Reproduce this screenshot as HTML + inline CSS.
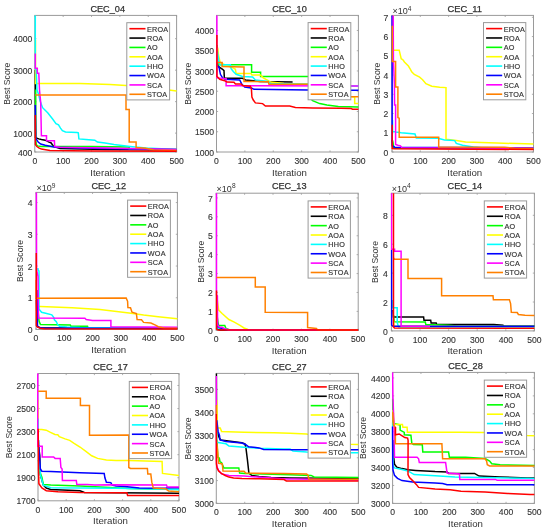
<!DOCTYPE html><html><head><meta charset="utf-8"><style>html,body{margin:0;padding:0;background:#fff;}svg{display:block;will-change:transform;}text{font-family:"Liberation Sans", sans-serif;}</style></head><body>
<svg width="550" height="532" viewBox="0 0 550 532">
<rect width="550" height="532" fill="#fff"/>
<defs><clipPath id="c0"><rect x="33.80" y="14.40" width="143.80" height="138.60"/></clipPath></defs>
<rect x="34.80" y="15.40" width="141.80" height="136.60" fill="none" stroke="#9a9a9a" stroke-width="1"/>
<path d="M34.80 152.00v-1.60M34.80 15.40v1.60M63.16 152.00v-1.60M63.16 15.40v1.60M91.52 152.00v-1.60M91.52 15.40v1.60M119.88 152.00v-1.60M119.88 15.40v1.60M148.24 152.00v-1.60M148.24 15.40v1.60M176.60 152.00v-1.60M176.60 15.40v1.60M34.80 152.00h1.60M176.60 152.00h-1.60M34.80 133.12h1.60M176.60 133.12h-1.60M34.80 101.64h1.60M176.60 101.64h-1.60M34.80 70.17h1.60M176.60 70.17h-1.60M34.80 38.69h1.60M176.60 38.69h-1.60" stroke="#9a9a9a" stroke-width="0.8" fill="none"/>
<g clip-path="url(#c0)" fill="none" stroke-width="1.5" stroke-linejoin="miter" stroke-linecap="butt">
<polyline stroke="#000000" points="35.30,70.00 35.50,137.60 38.80,138.90 41.40,139.50 45.20,140.20 49.00,142.10 50.90,142.70 52.80,145.30 54.10,146.50 60.00,148.50 105.00,149.60 176.60,150.00"/>
<polyline stroke="#00ff00" points="35.60,89.60 35.80,140.00 36.30,144.60 37.50,145.90 41.40,146.50 91.00,146.50 129.20,147.00 129.20,149.00 176.60,149.50"/>
<polyline stroke="#ffff00" points="35.50,40.00 35.50,83.40 80.00,83.60 110.00,84.50 126.00,85.50 150.00,87.50 165.00,89.50 176.60,91.00"/>
<polyline stroke="#00ffff" points="35.30,15.40 35.30,68.00 36.20,70.00 37.00,90.00 38.80,95.00 40.10,101.00 42.60,107.70 47.70,112.80 52.80,119.20 56.00,123.60 58.50,124.90 60.50,128.10 62.40,130.60 65.50,131.90 77.00,132.50 78.30,132.90 78.90,138.90 85.90,139.50 94.80,140.20 97.40,142.10 105.00,143.10 114.00,144.50 130.00,146.40 146.00,148.00 176.60,149.60"/>
<polyline stroke="#0000ff" points="35.30,105.00 35.80,138.30 38.20,142.10 40.70,144.00 45.20,145.30 51.50,146.50 55.40,147.20 100.00,148.50 176.60,149.50"/>
<polyline stroke="#ff00ff" points="35.30,53.50 35.30,68.20 37.30,68.20 37.30,73.30 38.80,73.30 39.50,90.00 40.70,102.60 41.40,135.70 46.50,135.70 46.50,140.80 54.40,140.80 54.70,146.50 60.00,147.20 105.00,148.00 176.60,149.60"/>
<polyline stroke="#ff8000" points="35.30,95.00 126.00,95.00 126.00,109.60 129.20,109.60 129.20,141.90 136.10,141.90 136.10,147.50 146.00,148.20 154.00,150.00 176.60,150.50"/>
<polyline stroke="#ff0000" points="35.30,115.00 35.40,144.60 36.90,146.50 38.80,147.80 41.40,149.10 50.00,150.50 93.00,150.90 176.60,151.20"/>
</g>
<g font-size="8.6" fill="#333333" stroke="#333333" stroke-width="0.12"><text x="34.80" y="163.90" text-anchor="middle">0</text><text x="63.16" y="163.90" text-anchor="middle">100</text><text x="91.52" y="163.90" text-anchor="middle">200</text><text x="119.88" y="163.90" text-anchor="middle">300</text><text x="148.24" y="163.90" text-anchor="middle">400</text><text x="176.60" y="163.90" text-anchor="middle">500</text><text x="32.30" y="155.60" text-anchor="end">400</text><text x="32.30" y="136.72" text-anchor="end">1000</text><text x="32.30" y="105.24" text-anchor="end">2000</text><text x="32.30" y="73.77" text-anchor="end">3000</text><text x="32.30" y="42.29" text-anchor="end">4000</text></g>
<text x="107.70" y="11.50" text-anchor="middle" font-size="9.0" fill="#333333" stroke="#333333" stroke-width="0.25" textLength="34.6" lengthAdjust="spacingAndGlyphs">CEC_04</text>
<text x="107.70" y="175.50" text-anchor="middle" font-size="8.9" fill="#333333" textLength="35" lengthAdjust="spacingAndGlyphs">Iteration</text>
<text transform="translate(9.80 83.70) rotate(-90)" text-anchor="middle" font-size="8.9" fill="#333333" textLength="42" lengthAdjust="spacingAndGlyphs">Best Score</text>
<rect x="126.80" y="22.70" width="42.80" height="77.20" fill="#fff" stroke="#9a9a9a" stroke-width="1"/>
<line x1="129.40" x2="145.50" y1="28.70" y2="28.70" stroke="#ff0000" stroke-width="1.6"/><text x="147.00" y="31.60" font-size="7.25" fill="#333333" stroke="#333333" stroke-width="0.15" letter-spacing="0.2">EROA</text><line x1="129.40" x2="145.50" y1="38.07" y2="38.07" stroke="#000000" stroke-width="1.6"/><text x="147.00" y="40.97" font-size="7.25" fill="#333333" stroke="#333333" stroke-width="0.15" letter-spacing="0.2">ROA</text><line x1="129.40" x2="145.50" y1="47.44" y2="47.44" stroke="#00ff00" stroke-width="1.6"/><text x="147.00" y="50.34" font-size="7.25" fill="#333333" stroke="#333333" stroke-width="0.15" letter-spacing="0.2">AO</text><line x1="129.40" x2="145.50" y1="56.81" y2="56.81" stroke="#ffff00" stroke-width="1.6"/><text x="147.00" y="59.71" font-size="7.25" fill="#333333" stroke="#333333" stroke-width="0.15" letter-spacing="0.2">AOA</text><line x1="129.40" x2="145.50" y1="66.18" y2="66.18" stroke="#00ffff" stroke-width="1.6"/><text x="147.00" y="69.08" font-size="7.25" fill="#333333" stroke="#333333" stroke-width="0.15" letter-spacing="0.2">HHO</text><line x1="129.40" x2="145.50" y1="75.55" y2="75.55" stroke="#0000ff" stroke-width="1.6"/><text x="147.00" y="78.45" font-size="7.25" fill="#333333" stroke="#333333" stroke-width="0.15" letter-spacing="0.2">WOA</text><line x1="129.40" x2="145.50" y1="84.92" y2="84.92" stroke="#ff00ff" stroke-width="1.6"/><text x="147.00" y="87.82" font-size="7.25" fill="#333333" stroke="#333333" stroke-width="0.15" letter-spacing="0.2">SCA</text><line x1="129.40" x2="145.50" y1="94.29" y2="94.29" stroke="#ff8000" stroke-width="1.6"/><text x="147.00" y="97.19" font-size="7.25" fill="#333333" stroke="#333333" stroke-width="0.15" letter-spacing="0.2">STOA</text>
<defs><clipPath id="c1"><rect x="215.50" y="14.40" width="143.90" height="138.60"/></clipPath></defs>
<rect x="216.50" y="15.40" width="141.90" height="136.60" fill="none" stroke="#9a9a9a" stroke-width="1"/>
<path d="M216.50 152.00v-1.60M216.50 15.40v1.60M244.88 152.00v-1.60M244.88 15.40v1.60M273.26 152.00v-1.60M273.26 15.40v1.60M301.64 152.00v-1.60M301.64 15.40v1.60M330.02 152.00v-1.60M330.02 15.40v1.60M358.40 152.00v-1.60M358.40 15.40v1.60M216.50 152.00h1.60M358.40 152.00h-1.60M216.50 131.74h1.60M358.40 131.74h-1.60M216.50 111.49h1.60M358.40 111.49h-1.60M216.50 91.23h1.60M358.40 91.23h-1.60M216.50 70.98h1.60M358.40 70.98h-1.60M216.50 50.72h1.60M358.40 50.72h-1.60M216.50 30.47h1.60M358.40 30.47h-1.60" stroke="#9a9a9a" stroke-width="0.8" fill="none"/>
<g clip-path="url(#c1)" fill="none" stroke-width="1.5" stroke-linejoin="miter" stroke-linecap="butt">
<polyline stroke="#000000" points="216.90,62.00 218.30,66.40 222.60,69.30 224.00,70.70 224.30,77.10 224.70,78.30 242.60,78.30 245.40,80.00 260.00,81.40 292.60,82.00"/>
<polyline stroke="#00ff00" points="217.20,45.00 218.00,60.00 219.00,64.70 251.60,64.70 251.60,72.30 260.60,72.30 260.60,76.60 310.00,76.60 311.00,99.00 312.60,100.70 319.70,103.60 326.90,105.00 338.30,106.40 358.40,107.10"/>
<polyline stroke="#ffff00" points="217.50,47.80 218.50,55.00 219.90,61.40 221.10,63.30 234.00,68.30 235.40,69.30 236.10,73.60 251.10,73.60 251.90,75.00 260.40,75.00 263.30,77.90 268.30,80.70 270.40,82.10 284.00,83.60 309.00,84.00 340.00,96.00 354.70,97.10 354.70,103.60 358.40,103.60"/>
<polyline stroke="#00ffff" points="217.30,51.20 219.30,63.60 220.40,64.70 230.40,64.70 231.10,68.60 233.30,71.40 236.10,74.30 242.60,76.40 252.60,77.10 255.40,80.00 268.30,81.40 270.40,83.60 290.00,84.00 309.00,84.30 340.00,86.00 358.40,86.00"/>
<polyline stroke="#0000ff" points="217.50,66.00 219.00,67.10 220.40,74.30 222.60,77.90 225.40,79.30 239.70,80.00 241.90,84.30 244.70,87.10 251.40,87.90 254.00,89.30 290.00,89.70 309.00,90.00 351.10,90.30 358.40,90.30"/>
<polyline stroke="#ff00ff" points="216.90,15.40 216.90,77.90 226.10,78.60 226.10,85.70 358.40,86.00"/>
<polyline stroke="#ff8000" points="216.90,62.50 222.10,62.50 222.10,66.60 244.00,66.90 244.00,81.40 268.30,81.70 269.00,84.30 309.00,84.30 340.00,96.40 358.40,96.80"/>
<polyline stroke="#ff0000" points="216.90,34.90 216.90,76.50 217.60,77.10 219.70,79.30 224.70,80.70 226.90,82.10 234.00,82.30 235.40,84.00 241.10,84.00 242.60,85.60 250.40,86.30 251.40,88.60 251.90,97.10 253.30,100.00 255.40,102.90 262.60,103.60 265.40,106.00 289.70,106.00 295.40,107.40 312.60,107.90 341.10,108.30 351.10,108.60 352.60,109.30 358.40,109.30"/>
</g>
<g font-size="8.6" fill="#333333" stroke="#333333" stroke-width="0.12"><text x="216.50" y="163.90" text-anchor="middle">0</text><text x="244.88" y="163.90" text-anchor="middle">100</text><text x="273.26" y="163.90" text-anchor="middle">200</text><text x="301.64" y="163.90" text-anchor="middle">300</text><text x="330.02" y="163.90" text-anchor="middle">400</text><text x="358.40" y="163.90" text-anchor="middle">500</text><text x="214.00" y="155.60" text-anchor="end">1000</text><text x="214.00" y="135.34" text-anchor="end">1500</text><text x="214.00" y="115.09" text-anchor="end">2000</text><text x="214.00" y="94.83" text-anchor="end">2500</text><text x="214.00" y="74.58" text-anchor="end">3000</text><text x="214.00" y="54.32" text-anchor="end">3500</text><text x="214.00" y="34.07" text-anchor="end">4000</text></g>
<text x="289.45" y="11.50" text-anchor="middle" font-size="9.0" fill="#333333" stroke="#333333" stroke-width="0.25" textLength="34.6" lengthAdjust="spacingAndGlyphs">CEC_10</text>
<text x="289.45" y="175.50" text-anchor="middle" font-size="8.9" fill="#333333" textLength="35" lengthAdjust="spacingAndGlyphs">Iteration</text>
<text transform="translate(190.60 83.70) rotate(-90)" text-anchor="middle" font-size="8.9" fill="#333333" textLength="42" lengthAdjust="spacingAndGlyphs">Best Score</text>
<rect x="308.10" y="22.60" width="42.70" height="77.20" fill="#fff" stroke="#9a9a9a" stroke-width="1"/>
<line x1="310.70" x2="326.80" y1="28.60" y2="28.60" stroke="#ff0000" stroke-width="1.6"/><text x="328.30" y="31.50" font-size="7.25" fill="#333333" stroke="#333333" stroke-width="0.15" letter-spacing="0.2">EROA</text><line x1="310.70" x2="326.80" y1="37.97" y2="37.97" stroke="#000000" stroke-width="1.6"/><text x="328.30" y="40.87" font-size="7.25" fill="#333333" stroke="#333333" stroke-width="0.15" letter-spacing="0.2">ROA</text><line x1="310.70" x2="326.80" y1="47.34" y2="47.34" stroke="#00ff00" stroke-width="1.6"/><text x="328.30" y="50.24" font-size="7.25" fill="#333333" stroke="#333333" stroke-width="0.15" letter-spacing="0.2">AO</text><line x1="310.70" x2="326.80" y1="56.71" y2="56.71" stroke="#ffff00" stroke-width="1.6"/><text x="328.30" y="59.61" font-size="7.25" fill="#333333" stroke="#333333" stroke-width="0.15" letter-spacing="0.2">AOA</text><line x1="310.70" x2="326.80" y1="66.08" y2="66.08" stroke="#00ffff" stroke-width="1.6"/><text x="328.30" y="68.98" font-size="7.25" fill="#333333" stroke="#333333" stroke-width="0.15" letter-spacing="0.2">HHO</text><line x1="310.70" x2="326.80" y1="75.45" y2="75.45" stroke="#0000ff" stroke-width="1.6"/><text x="328.30" y="78.35" font-size="7.25" fill="#333333" stroke="#333333" stroke-width="0.15" letter-spacing="0.2">WOA</text><line x1="310.70" x2="326.80" y1="84.82" y2="84.82" stroke="#ff00ff" stroke-width="1.6"/><text x="328.30" y="87.72" font-size="7.25" fill="#333333" stroke="#333333" stroke-width="0.15" letter-spacing="0.2">SCA</text><line x1="310.70" x2="326.80" y1="94.19" y2="94.19" stroke="#ff8000" stroke-width="1.6"/><text x="328.30" y="97.09" font-size="7.25" fill="#333333" stroke="#333333" stroke-width="0.15" letter-spacing="0.2">STOA</text>
<defs><clipPath id="c2"><rect x="391.00" y="14.40" width="143.50" height="138.60"/></clipPath></defs>
<rect x="392.00" y="15.40" width="141.50" height="136.60" fill="none" stroke="#9a9a9a" stroke-width="1"/>
<path d="M392.00 152.00v-1.60M392.00 15.40v1.60M420.30 152.00v-1.60M420.30 15.40v1.60M448.60 152.00v-1.60M448.60 15.40v1.60M476.90 152.00v-1.60M476.90 15.40v1.60M505.20 152.00v-1.60M505.20 15.40v1.60M533.50 152.00v-1.60M533.50 15.40v1.60M392.00 152.00h1.60M533.50 152.00h-1.60M392.00 132.76h1.60M533.50 132.76h-1.60M392.00 113.52h1.60M533.50 113.52h-1.60M392.00 94.28h1.60M533.50 94.28h-1.60M392.00 75.04h1.60M533.50 75.04h-1.60M392.00 55.80h1.60M533.50 55.80h-1.60M392.00 36.56h1.60M533.50 36.56h-1.60M392.00 17.32h1.60M533.50 17.32h-1.60" stroke="#9a9a9a" stroke-width="0.8" fill="none"/>
<g clip-path="url(#c2)" fill="none" stroke-width="1.5" stroke-linejoin="miter" stroke-linecap="butt">
<polyline stroke="#000000" points="392.30,140.00 393.00,148.00 533.50,148.80"/>
<polyline stroke="#00ff00" points="392.30,140.00 394.00,147.80 533.50,148.60"/>
<polyline stroke="#ffff00" points="393.30,15.40 393.30,50.20 399.20,50.20 401.20,58.70 403.10,60.00 404.40,62.00 408.40,66.00 410.40,69.30 411.70,71.90 414.30,74.50 419.60,77.20 422.60,79.70 425.90,83.70 431.80,86.30 439.70,87.20 446.00,87.60 446.00,139.30 456.40,140.60 465.60,141.90 496.90,143.10 533.50,144.00"/>
<polyline stroke="#00ffff" points="392.50,120.00 392.60,131.40 395.90,132.00 401.20,132.70 415.00,134.00 416.30,137.90 438.00,138.20 444.60,139.90 450.00,140.30 454.70,140.60 456.30,143.40 462.50,145.30 473.40,146.90 481.30,147.70 533.50,148.30"/>
<polyline stroke="#0000ff" points="392.10,15.40 392.10,145.80 392.60,145.80 394.60,147.20 533.50,148.00"/>
<polyline stroke="#ff00ff" points="393.20,15.40 393.40,60.00 394.40,84.00 394.60,105.00 395.60,105.00 395.60,144.50 397.90,145.20 400.50,145.80 401.80,147.80 533.50,148.20"/>
<polyline stroke="#ff8000" points="392.30,25.80 392.30,61.40 395.60,61.40 395.60,87.00 397.90,87.00 397.90,117.60 399.20,118.20 399.20,137.30 438.70,137.30 438.70,146.90 504.70,147.20 515.60,148.40 533.50,148.60"/>
<polyline stroke="#ff0000" points="392.20,124.80 392.20,148.50 394.60,148.80 533.50,149.50"/>
</g>
<g font-size="8.6" fill="#333333" stroke="#333333" stroke-width="0.12"><text x="392.00" y="163.90" text-anchor="middle">0</text><text x="420.30" y="163.90" text-anchor="middle">100</text><text x="448.60" y="163.90" text-anchor="middle">200</text><text x="476.90" y="163.90" text-anchor="middle">300</text><text x="505.20" y="163.90" text-anchor="middle">400</text><text x="533.50" y="163.90" text-anchor="middle">500</text><text x="388.40" y="155.60" text-anchor="end">0</text><text x="388.40" y="136.36" text-anchor="end">1</text><text x="388.40" y="117.12" text-anchor="end">2</text><text x="388.40" y="97.88" text-anchor="end">3</text><text x="388.40" y="78.64" text-anchor="end">4</text><text x="388.40" y="59.40" text-anchor="end">5</text><text x="388.40" y="40.16" text-anchor="end">6</text><text x="388.40" y="20.92" text-anchor="end">7</text></g>
<text x="392.40" y="14.10" font-size="9" fill="#333333">&#215;10<tspan font-size="6.6" dy="-3.6">4</tspan></text>
<text x="464.75" y="11.50" text-anchor="middle" font-size="9.0" fill="#333333" stroke="#333333" stroke-width="0.25" textLength="34.6" lengthAdjust="spacingAndGlyphs">CEC_11</text>
<text x="464.75" y="175.50" text-anchor="middle" font-size="8.9" fill="#333333" textLength="35" lengthAdjust="spacingAndGlyphs">Iteration</text>
<text transform="translate(379.60 83.70) rotate(-90)" text-anchor="middle" font-size="8.9" fill="#333333" textLength="42" lengthAdjust="spacingAndGlyphs">Best Score</text>
<rect x="483.50" y="22.60" width="42.30" height="77.20" fill="#fff" stroke="#9a9a9a" stroke-width="1"/>
<line x1="486.10" x2="502.20" y1="28.60" y2="28.60" stroke="#ff0000" stroke-width="1.6"/><text x="503.70" y="31.50" font-size="7.25" fill="#333333" stroke="#333333" stroke-width="0.15" letter-spacing="0.2">EROA</text><line x1="486.10" x2="502.20" y1="37.97" y2="37.97" stroke="#000000" stroke-width="1.6"/><text x="503.70" y="40.87" font-size="7.25" fill="#333333" stroke="#333333" stroke-width="0.15" letter-spacing="0.2">ROA</text><line x1="486.10" x2="502.20" y1="47.34" y2="47.34" stroke="#00ff00" stroke-width="1.6"/><text x="503.70" y="50.24" font-size="7.25" fill="#333333" stroke="#333333" stroke-width="0.15" letter-spacing="0.2">AO</text><line x1="486.10" x2="502.20" y1="56.71" y2="56.71" stroke="#ffff00" stroke-width="1.6"/><text x="503.70" y="59.61" font-size="7.25" fill="#333333" stroke="#333333" stroke-width="0.15" letter-spacing="0.2">AOA</text><line x1="486.10" x2="502.20" y1="66.08" y2="66.08" stroke="#00ffff" stroke-width="1.6"/><text x="503.70" y="68.98" font-size="7.25" fill="#333333" stroke="#333333" stroke-width="0.15" letter-spacing="0.2">HHO</text><line x1="486.10" x2="502.20" y1="75.45" y2="75.45" stroke="#0000ff" stroke-width="1.6"/><text x="503.70" y="78.35" font-size="7.25" fill="#333333" stroke="#333333" stroke-width="0.15" letter-spacing="0.2">WOA</text><line x1="486.10" x2="502.20" y1="84.82" y2="84.82" stroke="#ff00ff" stroke-width="1.6"/><text x="503.70" y="87.72" font-size="7.25" fill="#333333" stroke="#333333" stroke-width="0.15" letter-spacing="0.2">SCA</text><line x1="486.10" x2="502.20" y1="94.19" y2="94.19" stroke="#ff8000" stroke-width="1.6"/><text x="503.70" y="97.09" font-size="7.25" fill="#333333" stroke="#333333" stroke-width="0.15" letter-spacing="0.2">STOA</text>
<defs><clipPath id="c3"><rect x="35.00" y="191.40" width="143.40" height="139.10"/></clipPath></defs>
<rect x="36.00" y="192.40" width="141.40" height="137.10" fill="none" stroke="#9a9a9a" stroke-width="1"/>
<path d="M36.00 329.50v-1.60M36.00 192.40v1.60M64.28 329.50v-1.60M64.28 192.40v1.60M92.56 329.50v-1.60M92.56 192.40v1.60M120.84 329.50v-1.60M120.84 192.40v1.60M149.12 329.50v-1.60M149.12 192.40v1.60M177.40 329.50v-1.60M177.40 192.40v1.60M36.00 329.50h1.60M177.40 329.50h-1.60M36.00 297.76h1.60M177.40 297.76h-1.60M36.00 266.03h1.60M177.40 266.03h-1.60M36.00 234.29h1.60M177.40 234.29h-1.60M36.00 202.56h1.60M177.40 202.56h-1.60" stroke="#9a9a9a" stroke-width="0.8" fill="none"/>
<g clip-path="url(#c3)" fill="none" stroke-width="1.5" stroke-linejoin="miter" stroke-linecap="butt">
<polyline stroke="#000000" points="36.50,300.00 37.00,326.00 40.00,327.80 177.40,328.20"/>
<polyline stroke="#00ff00" points="37.00,300.00 39.10,321.20 40.40,324.40 70.30,325.00 70.90,326.30 87.50,326.30 88.00,327.80 177.40,328.20"/>
<polyline stroke="#ffff00" points="37.50,290.00 38.00,306.50 40.40,306.50 72.20,307.80 100.00,309.60 129.10,312.90 143.60,315.10 158.20,316.80 177.40,318.70"/>
<polyline stroke="#00ffff" points="37.90,268.00 37.90,269.70 39.00,271.00 39.00,309.20 41.60,312.30 46.70,313.50 51.80,314.80 53.70,317.40 54.40,319.90 56.30,321.80 57.50,324.40 59.50,326.30 67.00,326.90 80.00,327.50 177.40,328.00"/>
<polyline stroke="#0000ff" points="37.00,290.00 37.50,326.50 39.00,327.50 45.00,328.20 177.40,328.20"/>
<polyline stroke="#ff00ff" points="36.40,192.40 36.60,270.00 38.00,276.30 38.50,318.00 84.90,318.30 86.20,319.50 92.50,320.50 110.90,320.50 110.90,326.70 177.40,327.20"/>
<polyline stroke="#ff8000" points="36.30,280.00 36.30,298.30 126.20,298.10 127.60,301.30 127.90,307.50 130.50,307.80 132.00,312.20 136.40,313.60 137.10,319.50 141.50,319.70 143.60,322.40 150.90,323.10 156.00,325.30 158.20,326.70 164.00,327.90 177.40,328.20"/>
<polyline stroke="#ff0000" points="36.30,252.90 36.30,325.60 37.20,326.90 40.40,328.20 44.20,328.80 177.40,328.90"/>
</g>
<g font-size="8.6" fill="#333333" stroke="#333333" stroke-width="0.12"><text x="36.00" y="341.40" text-anchor="middle">0</text><text x="64.28" y="341.40" text-anchor="middle">100</text><text x="92.56" y="341.40" text-anchor="middle">200</text><text x="120.84" y="341.40" text-anchor="middle">300</text><text x="149.12" y="341.40" text-anchor="middle">400</text><text x="177.40" y="341.40" text-anchor="middle">500</text><text x="32.60" y="333.10" text-anchor="end">0</text><text x="32.60" y="301.36" text-anchor="end">1</text><text x="32.60" y="269.63" text-anchor="end">2</text><text x="32.60" y="237.89" text-anchor="end">3</text><text x="32.60" y="206.16" text-anchor="end">4</text></g>
<text x="36.40" y="191.10" font-size="9" fill="#333333">&#215;10<tspan font-size="6.6" dy="-3.6">9</tspan></text>
<text x="108.70" y="188.50" text-anchor="middle" font-size="9.0" fill="#333333" stroke="#333333" stroke-width="0.25" textLength="34.6" lengthAdjust="spacingAndGlyphs">CEC_12</text>
<text x="108.70" y="353.00" text-anchor="middle" font-size="8.9" fill="#333333" textLength="35" lengthAdjust="spacingAndGlyphs">Iteration</text>
<text transform="translate(23.20 260.95) rotate(-90)" text-anchor="middle" font-size="8.9" fill="#333333" textLength="42" lengthAdjust="spacingAndGlyphs">Best Score</text>
<rect x="127.60" y="200.10" width="42.80" height="77.20" fill="#fff" stroke="#9a9a9a" stroke-width="1"/>
<line x1="130.20" x2="146.30" y1="206.10" y2="206.10" stroke="#ff0000" stroke-width="1.6"/><text x="147.80" y="209.00" font-size="7.25" fill="#333333" stroke="#333333" stroke-width="0.15" letter-spacing="0.2">EROA</text><line x1="130.20" x2="146.30" y1="215.47" y2="215.47" stroke="#000000" stroke-width="1.6"/><text x="147.80" y="218.37" font-size="7.25" fill="#333333" stroke="#333333" stroke-width="0.15" letter-spacing="0.2">ROA</text><line x1="130.20" x2="146.30" y1="224.84" y2="224.84" stroke="#00ff00" stroke-width="1.6"/><text x="147.80" y="227.74" font-size="7.25" fill="#333333" stroke="#333333" stroke-width="0.15" letter-spacing="0.2">AO</text><line x1="130.20" x2="146.30" y1="234.21" y2="234.21" stroke="#ffff00" stroke-width="1.6"/><text x="147.80" y="237.11" font-size="7.25" fill="#333333" stroke="#333333" stroke-width="0.15" letter-spacing="0.2">AOA</text><line x1="130.20" x2="146.30" y1="243.58" y2="243.58" stroke="#00ffff" stroke-width="1.6"/><text x="147.80" y="246.48" font-size="7.25" fill="#333333" stroke="#333333" stroke-width="0.15" letter-spacing="0.2">HHO</text><line x1="130.20" x2="146.30" y1="252.95" y2="252.95" stroke="#0000ff" stroke-width="1.6"/><text x="147.80" y="255.85" font-size="7.25" fill="#333333" stroke="#333333" stroke-width="0.15" letter-spacing="0.2">WOA</text><line x1="130.20" x2="146.30" y1="262.32" y2="262.32" stroke="#ff00ff" stroke-width="1.6"/><text x="147.80" y="265.22" font-size="7.25" fill="#333333" stroke="#333333" stroke-width="0.15" letter-spacing="0.2">SCA</text><line x1="130.20" x2="146.30" y1="271.69" y2="271.69" stroke="#ff8000" stroke-width="1.6"/><text x="147.80" y="274.59" font-size="7.25" fill="#333333" stroke="#333333" stroke-width="0.15" letter-spacing="0.2">STOA</text>
<defs><clipPath id="c4"><rect x="215.20" y="192.20" width="144.00" height="139.10"/></clipPath></defs>
<rect x="216.20" y="193.20" width="142.00" height="137.10" fill="none" stroke="#9a9a9a" stroke-width="1"/>
<path d="M216.20 330.30v-1.60M216.20 193.20v1.60M244.60 330.30v-1.60M244.60 193.20v1.60M273.00 330.30v-1.60M273.00 193.20v1.60M301.40 330.30v-1.60M301.40 193.20v1.60M329.80 330.30v-1.60M329.80 193.20v1.60M358.20 330.30v-1.60M358.20 193.20v1.60M216.20 330.30h1.60M358.20 330.30h-1.60M216.20 311.39h1.60M358.20 311.39h-1.60M216.20 292.48h1.60M358.20 292.48h-1.60M216.20 273.57h1.60M358.20 273.57h-1.60M216.20 254.66h1.60M358.20 254.66h-1.60M216.20 235.75h1.60M358.20 235.75h-1.60M216.20 216.84h1.60M358.20 216.84h-1.60M216.20 197.93h1.60M358.20 197.93h-1.60" stroke="#9a9a9a" stroke-width="0.8" fill="none"/>
<g clip-path="url(#c4)" fill="none" stroke-width="1.5" stroke-linejoin="miter" stroke-linecap="butt">
<polyline stroke="#000000" points="216.80,315.00 217.50,329.00 220.00,330.00 358.20,330.00"/>
<polyline stroke="#00ff00" points="217.00,315.00 218.50,325.60 224.80,325.60 226.00,328.50 230.00,330.00 358.20,330.00"/>
<polyline stroke="#ffff00" points="217.30,300.00 218.70,310.10 222.10,313.50 228.90,319.50 234.30,322.20 240.00,325.40 244.00,328.00 248.00,329.50 251.00,330.00 358.20,330.00"/>
<polyline stroke="#00ffff" points="217.00,320.00 218.00,328.30 224.00,328.50 228.00,330.00 358.20,330.00"/>
<polyline stroke="#0000ff" points="217.00,320.00 218.00,327.00 222.00,328.60 226.00,330.00 358.20,330.00"/>
<polyline stroke="#ff00ff" points="216.50,193.20 216.50,295.00 217.40,295.90 217.60,325.00 219.00,327.00 222.00,327.30 225.00,328.80 229.00,330.00 358.20,330.00"/>
<polyline stroke="#ff8000" points="216.50,277.60 255.30,277.60 255.30,287.10 265.20,287.10 265.20,312.20 307.60,312.40 307.60,327.60 316.40,328.40 317.10,329.50 320.00,330.00 358.20,330.00"/>
<polyline stroke="#ff0000" points="216.50,290.40 216.50,328.80 218.00,330.00 358.20,330.00"/>
</g>
<g font-size="8.6" fill="#333333" stroke="#333333" stroke-width="0.12"><text x="216.20" y="342.20" text-anchor="middle">0</text><text x="244.60" y="342.20" text-anchor="middle">100</text><text x="273.00" y="342.20" text-anchor="middle">200</text><text x="301.40" y="342.20" text-anchor="middle">300</text><text x="329.80" y="342.20" text-anchor="middle">400</text><text x="358.20" y="342.20" text-anchor="middle">500</text><text x="212.70" y="333.90" text-anchor="end">0</text><text x="212.70" y="314.99" text-anchor="end">1</text><text x="212.70" y="296.08" text-anchor="end">2</text><text x="212.70" y="277.17" text-anchor="end">3</text><text x="212.70" y="258.26" text-anchor="end">4</text><text x="212.70" y="239.35" text-anchor="end">5</text><text x="212.70" y="220.44" text-anchor="end">6</text><text x="212.70" y="201.53" text-anchor="end">7</text></g>
<text x="216.60" y="191.90" font-size="9" fill="#333333">&#215;10<tspan font-size="6.6" dy="-3.6">8</tspan></text>
<text x="289.20" y="189.30" text-anchor="middle" font-size="9.0" fill="#333333" stroke="#333333" stroke-width="0.25" textLength="34.6" lengthAdjust="spacingAndGlyphs">CEC_13</text>
<text x="289.20" y="353.80" text-anchor="middle" font-size="8.9" fill="#333333" textLength="35" lengthAdjust="spacingAndGlyphs">Iteration</text>
<text transform="translate(203.50 261.75) rotate(-90)" text-anchor="middle" font-size="8.9" fill="#333333" textLength="42" lengthAdjust="spacingAndGlyphs">Best Score</text>
<rect x="308.10" y="200.90" width="42.30" height="77.20" fill="#fff" stroke="#9a9a9a" stroke-width="1"/>
<line x1="310.70" x2="326.80" y1="206.90" y2="206.90" stroke="#ff0000" stroke-width="1.6"/><text x="328.30" y="209.80" font-size="7.25" fill="#333333" stroke="#333333" stroke-width="0.15" letter-spacing="0.2">EROA</text><line x1="310.70" x2="326.80" y1="216.27" y2="216.27" stroke="#000000" stroke-width="1.6"/><text x="328.30" y="219.17" font-size="7.25" fill="#333333" stroke="#333333" stroke-width="0.15" letter-spacing="0.2">ROA</text><line x1="310.70" x2="326.80" y1="225.64" y2="225.64" stroke="#00ff00" stroke-width="1.6"/><text x="328.30" y="228.54" font-size="7.25" fill="#333333" stroke="#333333" stroke-width="0.15" letter-spacing="0.2">AO</text><line x1="310.70" x2="326.80" y1="235.01" y2="235.01" stroke="#ffff00" stroke-width="1.6"/><text x="328.30" y="237.91" font-size="7.25" fill="#333333" stroke="#333333" stroke-width="0.15" letter-spacing="0.2">AOA</text><line x1="310.70" x2="326.80" y1="244.38" y2="244.38" stroke="#00ffff" stroke-width="1.6"/><text x="328.30" y="247.28" font-size="7.25" fill="#333333" stroke="#333333" stroke-width="0.15" letter-spacing="0.2">HHO</text><line x1="310.70" x2="326.80" y1="253.75" y2="253.75" stroke="#0000ff" stroke-width="1.6"/><text x="328.30" y="256.65" font-size="7.25" fill="#333333" stroke="#333333" stroke-width="0.15" letter-spacing="0.2">WOA</text><line x1="310.70" x2="326.80" y1="263.12" y2="263.12" stroke="#ff00ff" stroke-width="1.6"/><text x="328.30" y="266.02" font-size="7.25" fill="#333333" stroke="#333333" stroke-width="0.15" letter-spacing="0.2">SCA</text><line x1="310.70" x2="326.80" y1="272.49" y2="272.49" stroke="#ff8000" stroke-width="1.6"/><text x="328.30" y="275.39" font-size="7.25" fill="#333333" stroke="#333333" stroke-width="0.15" letter-spacing="0.2">STOA</text>
<defs><clipPath id="c5"><rect x="390.40" y="192.20" width="145.00" height="139.70"/></clipPath></defs>
<rect x="391.40" y="193.20" width="143.00" height="137.70" fill="none" stroke="#9a9a9a" stroke-width="1"/>
<path d="M391.40 330.90v-1.60M391.40 193.20v1.60M420.00 330.90v-1.60M420.00 193.20v1.60M448.60 330.90v-1.60M448.60 193.20v1.60M477.20 330.90v-1.60M477.20 193.20v1.60M505.80 330.90v-1.60M505.80 193.20v1.60M534.40 330.90v-1.60M534.40 193.20v1.60M391.40 330.90h1.60M534.40 330.90h-1.60M391.40 302.00h1.60M534.40 302.00h-1.60M391.40 273.10h1.60M534.40 273.10h-1.60M391.40 244.21h1.60M534.40 244.21h-1.60M391.40 215.31h1.60M534.40 215.31h-1.60" stroke="#9a9a9a" stroke-width="0.8" fill="none"/>
<g clip-path="url(#c5)" fill="none" stroke-width="1.5" stroke-linejoin="miter" stroke-linecap="butt">
<polyline stroke="#000000" points="393.00,310.00 393.40,317.10 423.60,317.10 424.00,320.20 430.70,320.20 431.10,322.90 436.20,322.90 436.60,324.20 493.80,324.50 503.00,325.20 504.00,326.30 534.40,326.30"/>
<polyline stroke="#00ff00" points="393.50,315.00 394.20,321.80 425.30,322.00 425.80,324.40 448.20,325.30 460.00,326.30 534.40,326.30"/>
<polyline stroke="#ffff00" points="393.50,320.00 394.00,326.00 534.40,326.50"/>
<polyline stroke="#00ffff" points="392.30,300.00 392.30,307.80 397.20,307.80 397.20,322.40 398.50,327.00 534.40,327.00"/>
<polyline stroke="#0000ff" points="391.60,249.90 391.60,325.00 393.00,326.20 534.40,326.30"/>
<polyline stroke="#ff00ff" points="391.60,193.20 391.60,249.20 394.60,249.20 394.60,251.20 401.10,251.20 401.10,326.30 403.40,326.30 414.40,326.20 430.00,326.40"/>
<polyline stroke="#ff8000" points="393.50,258.00 394.20,259.20 408.00,259.20 408.00,278.50 441.60,278.50 441.60,295.80 493.00,295.80 493.40,299.70 509.40,299.70 510.60,303.60 511.30,312.20 517.20,312.50 518.40,314.50 525.00,315.30 534.40,315.60"/>
<polyline stroke="#ff0000" points="393.50,193.20 393.50,327.00 394.50,328.10 534.40,328.30"/>
</g>
<g font-size="8.6" fill="#333333" stroke="#333333" stroke-width="0.12"><text x="391.40" y="342.80" text-anchor="middle">0</text><text x="420.00" y="342.80" text-anchor="middle">100</text><text x="448.60" y="342.80" text-anchor="middle">200</text><text x="477.20" y="342.80" text-anchor="middle">300</text><text x="505.80" y="342.80" text-anchor="middle">400</text><text x="534.40" y="342.80" text-anchor="middle">500</text><text x="387.80" y="334.50" text-anchor="end">0</text><text x="387.80" y="305.60" text-anchor="end">2</text><text x="387.80" y="276.70" text-anchor="end">4</text><text x="387.80" y="247.81" text-anchor="end">6</text><text x="387.80" y="218.91" text-anchor="end">8</text></g>
<text x="391.80" y="191.90" font-size="9" fill="#333333">&#215;10<tspan font-size="6.6" dy="-3.6">4</tspan></text>
<text x="464.90" y="189.30" text-anchor="middle" font-size="9.0" fill="#333333" stroke="#333333" stroke-width="0.25" textLength="34.6" lengthAdjust="spacingAndGlyphs">CEC_14</text>
<text x="464.90" y="354.40" text-anchor="middle" font-size="8.9" fill="#333333" textLength="35" lengthAdjust="spacingAndGlyphs">Iteration</text>
<text transform="translate(378.40 262.05) rotate(-90)" text-anchor="middle" font-size="8.9" fill="#333333" textLength="42" lengthAdjust="spacingAndGlyphs">Best Score</text>
<rect x="484.30" y="200.90" width="42.30" height="77.20" fill="#fff" stroke="#9a9a9a" stroke-width="1"/>
<line x1="486.90" x2="503.00" y1="206.90" y2="206.90" stroke="#ff0000" stroke-width="1.6"/><text x="504.50" y="209.80" font-size="7.25" fill="#333333" stroke="#333333" stroke-width="0.15" letter-spacing="0.2">EROA</text><line x1="486.90" x2="503.00" y1="216.27" y2="216.27" stroke="#000000" stroke-width="1.6"/><text x="504.50" y="219.17" font-size="7.25" fill="#333333" stroke="#333333" stroke-width="0.15" letter-spacing="0.2">ROA</text><line x1="486.90" x2="503.00" y1="225.64" y2="225.64" stroke="#00ff00" stroke-width="1.6"/><text x="504.50" y="228.54" font-size="7.25" fill="#333333" stroke="#333333" stroke-width="0.15" letter-spacing="0.2">AO</text><line x1="486.90" x2="503.00" y1="235.01" y2="235.01" stroke="#ffff00" stroke-width="1.6"/><text x="504.50" y="237.91" font-size="7.25" fill="#333333" stroke="#333333" stroke-width="0.15" letter-spacing="0.2">AOA</text><line x1="486.90" x2="503.00" y1="244.38" y2="244.38" stroke="#00ffff" stroke-width="1.6"/><text x="504.50" y="247.28" font-size="7.25" fill="#333333" stroke="#333333" stroke-width="0.15" letter-spacing="0.2">HHO</text><line x1="486.90" x2="503.00" y1="253.75" y2="253.75" stroke="#0000ff" stroke-width="1.6"/><text x="504.50" y="256.65" font-size="7.25" fill="#333333" stroke="#333333" stroke-width="0.15" letter-spacing="0.2">WOA</text><line x1="486.90" x2="503.00" y1="263.12" y2="263.12" stroke="#ff00ff" stroke-width="1.6"/><text x="504.50" y="266.02" font-size="7.25" fill="#333333" stroke="#333333" stroke-width="0.15" letter-spacing="0.2">SCA</text><line x1="486.90" x2="503.00" y1="272.49" y2="272.49" stroke="#ff8000" stroke-width="1.6"/><text x="504.50" y="275.39" font-size="7.25" fill="#333333" stroke="#333333" stroke-width="0.15" letter-spacing="0.2">STOA</text>
<defs><clipPath id="c6"><rect x="37.00" y="372.50" width="143.00" height="129.30"/></clipPath></defs>
<rect x="38.00" y="373.50" width="141.00" height="127.30" fill="none" stroke="#9a9a9a" stroke-width="1"/>
<path d="M38.00 500.80v-1.60M38.00 373.50v1.60M66.20 500.80v-1.60M66.20 373.50v1.60M94.40 500.80v-1.60M94.40 373.50v1.60M122.60 500.80v-1.60M122.60 373.50v1.60M150.80 500.80v-1.60M150.80 373.50v1.60M179.00 500.80v-1.60M179.00 373.50v1.60M38.00 500.80h1.60M179.00 500.80h-1.60M38.00 477.74h1.60M179.00 477.74h-1.60M38.00 454.68h1.60M179.00 454.68h-1.60M38.00 431.62h1.60M179.00 431.62h-1.60M38.00 408.55h1.60M179.00 408.55h-1.60M38.00 385.49h1.60M179.00 385.49h-1.60" stroke="#9a9a9a" stroke-width="0.8" fill="none"/>
<g clip-path="url(#c6)" fill="none" stroke-width="1.5" stroke-linejoin="miter" stroke-linecap="butt">
<polyline stroke="#000000" points="38.50,445.00 39.70,455.00 40.40,474.90 43.30,485.10 46.30,488.00 50.70,489.50 80.00,490.70 84.40,492.40 179.00,493.20"/>
<polyline stroke="#00ff00" points="38.50,460.00 39.70,471.90 41.90,477.10 43.30,484.40 50.70,485.10 80.00,486.00 130.00,488.50 179.00,489.50"/>
<polyline stroke="#ffff00" points="38.00,400.00 38.20,429.50 41.80,429.50 46.20,430.20 50.50,432.40 54.90,434.50 57.80,434.80 59.30,436.70 65.10,438.90 69.70,440.40 74.10,443.30 80.00,447.00 85.90,451.40 91.70,455.80 97.60,458.40 106.40,459.90 116.00,460.40 129.10,460.60 162.10,461.40 162.50,473.40 179.00,475.60"/>
<polyline stroke="#00ffff" points="38.00,418.50 38.50,450.00 40.40,474.90 43.30,485.10 50.70,487.80 116.00,488.30 179.00,489.50"/>
<polyline stroke="#0000ff" points="38.50,440.00 38.90,448.50 40.40,469.00 41.90,471.20 50.70,471.60 80.00,472.70 104.20,473.40 104.90,477.80 106.40,482.20 110.80,482.60 112.20,485.10 116.00,485.90 124.70,486.60 139.30,488.00 165.70,488.30 167.20,487.80 179.00,487.80"/>
<polyline stroke="#ff00ff" points="37.70,373.50 37.70,446.30 42.20,446.30 42.20,457.00 53.60,457.00 55.10,458.40 60.20,458.40 60.90,467.50 62.10,469.00 62.40,480.40 76.30,480.40 76.80,484.40 87.30,484.40 94.70,485.10 110.00,484.80 166.50,485.10 167.20,486.90 179.00,486.90"/>
<polyline stroke="#ff8000" points="38.20,391.30 46.20,391.30 46.20,398.20 80.40,398.20 80.40,405.50 89.50,405.50 89.50,435.30 128.80,435.00 128.80,467.50 130.50,468.50 147.40,468.50 147.80,474.10 150.80,474.10 151.80,482.20 153.30,488.00 165.70,488.80 168.70,491.00 177.40,491.70 179.00,491.70"/>
<polyline stroke="#ff0000" points="38.20,428.70 38.50,470.00 38.90,483.70 41.90,488.00 46.30,490.70 58.00,491.70 80.00,492.40 116.00,492.70 126.90,492.70 127.60,495.40 179.00,495.40"/>
</g>
<g font-size="8.6" fill="#333333" stroke="#333333" stroke-width="0.12"><text x="38.00" y="512.70" text-anchor="middle">0</text><text x="66.20" y="512.70" text-anchor="middle">100</text><text x="94.40" y="512.70" text-anchor="middle">200</text><text x="122.60" y="512.70" text-anchor="middle">300</text><text x="150.80" y="512.70" text-anchor="middle">400</text><text x="179.00" y="512.70" text-anchor="middle">500</text><text x="35.50" y="504.40" text-anchor="end">1700</text><text x="35.50" y="481.34" text-anchor="end">1900</text><text x="35.50" y="458.28" text-anchor="end">2100</text><text x="35.50" y="435.22" text-anchor="end">2300</text><text x="35.50" y="412.15" text-anchor="end">2500</text><text x="35.50" y="389.09" text-anchor="end">2700</text></g>
<text x="110.50" y="369.60" text-anchor="middle" font-size="9.0" fill="#333333" stroke="#333333" stroke-width="0.25" textLength="34.6" lengthAdjust="spacingAndGlyphs">CEC_17</text>
<text x="110.50" y="524.30" text-anchor="middle" font-size="8.9" fill="#333333" textLength="35" lengthAdjust="spacingAndGlyphs">Iteration</text>
<text transform="translate(11.70 437.15) rotate(-90)" text-anchor="middle" font-size="8.9" fill="#333333" textLength="42" lengthAdjust="spacingAndGlyphs">Best Score</text>
<rect x="129.30" y="381.40" width="42.30" height="77.20" fill="#fff" stroke="#9a9a9a" stroke-width="1"/>
<line x1="131.90" x2="148.00" y1="387.40" y2="387.40" stroke="#ff0000" stroke-width="1.6"/><text x="149.50" y="390.30" font-size="7.25" fill="#333333" stroke="#333333" stroke-width="0.15" letter-spacing="0.2">EROA</text><line x1="131.90" x2="148.00" y1="396.77" y2="396.77" stroke="#000000" stroke-width="1.6"/><text x="149.50" y="399.67" font-size="7.25" fill="#333333" stroke="#333333" stroke-width="0.15" letter-spacing="0.2">ROA</text><line x1="131.90" x2="148.00" y1="406.14" y2="406.14" stroke="#00ff00" stroke-width="1.6"/><text x="149.50" y="409.04" font-size="7.25" fill="#333333" stroke="#333333" stroke-width="0.15" letter-spacing="0.2">AO</text><line x1="131.90" x2="148.00" y1="415.51" y2="415.51" stroke="#ffff00" stroke-width="1.6"/><text x="149.50" y="418.41" font-size="7.25" fill="#333333" stroke="#333333" stroke-width="0.15" letter-spacing="0.2">AOA</text><line x1="131.90" x2="148.00" y1="424.88" y2="424.88" stroke="#00ffff" stroke-width="1.6"/><text x="149.50" y="427.78" font-size="7.25" fill="#333333" stroke="#333333" stroke-width="0.15" letter-spacing="0.2">HHO</text><line x1="131.90" x2="148.00" y1="434.25" y2="434.25" stroke="#0000ff" stroke-width="1.6"/><text x="149.50" y="437.15" font-size="7.25" fill="#333333" stroke="#333333" stroke-width="0.15" letter-spacing="0.2">WOA</text><line x1="131.90" x2="148.00" y1="443.62" y2="443.62" stroke="#ff00ff" stroke-width="1.6"/><text x="149.50" y="446.52" font-size="7.25" fill="#333333" stroke="#333333" stroke-width="0.15" letter-spacing="0.2">SCA</text><line x1="131.90" x2="148.00" y1="452.99" y2="452.99" stroke="#ff8000" stroke-width="1.6"/><text x="149.50" y="455.89" font-size="7.25" fill="#333333" stroke="#333333" stroke-width="0.15" letter-spacing="0.2">STOA</text>
<defs><clipPath id="c7"><rect x="215.30" y="372.40" width="144.10" height="132.00"/></clipPath></defs>
<rect x="216.30" y="373.40" width="142.10" height="130.00" fill="none" stroke="#9a9a9a" stroke-width="1"/>
<path d="M216.30 503.40v-1.60M216.30 373.40v1.60M244.72 503.40v-1.60M244.72 373.40v1.60M273.14 503.40v-1.60M273.14 373.40v1.60M301.56 503.40v-1.60M301.56 373.40v1.60M329.98 503.40v-1.60M329.98 373.40v1.60M358.40 503.40v-1.60M358.40 373.40v1.60M216.30 503.40h1.60M358.40 503.40h-1.60M216.30 480.59h1.60M358.40 480.59h-1.60M216.30 457.79h1.60M358.40 457.79h-1.60M216.30 434.98h1.60M358.40 434.98h-1.60M216.30 412.17h1.60M358.40 412.17h-1.60M216.30 389.36h1.60M358.40 389.36h-1.60" stroke="#9a9a9a" stroke-width="0.8" fill="none"/>
<g clip-path="url(#c7)" fill="none" stroke-width="1.5" stroke-linejoin="miter" stroke-linecap="butt">
<polyline stroke="#000000" points="216.40,373.40 216.60,430.00 219.30,437.80 220.80,440.00 241.80,442.70 244.80,443.80 245.90,447.60 247.40,459.60 248.90,473.10 251.60,475.40 259.10,476.40 271.10,477.60 290.00,477.90 358.40,478.40"/>
<polyline stroke="#00ff00" points="217.00,440.00 217.80,457.30 219.30,458.10 220.00,461.80 221.50,462.60 223.80,467.90 238.80,467.90 239.60,473.10 244.80,473.40 290.00,474.80 311.10,475.40 314.10,476.90 358.40,477.60"/>
<polyline stroke="#ffff00" points="216.80,400.00 217.50,427.90 220.20,427.90 221.60,431.40 227.80,431.70 244.10,432.20 274.20,432.80 290.00,433.30 306.60,434.00 330.00,440.00 350.20,444.20 358.40,444.50"/>
<polyline stroke="#00ffff" points="216.80,420.00 217.00,442.30 226.00,443.80 229.00,446.10 244.10,447.30 259.10,448.30 284.00,449.10 290.00,449.10 293.00,450.90 306.60,452.10 350.20,452.80 358.40,452.80"/>
<polyline stroke="#0000ff" points="216.80,420.30 218.10,431.40 219.50,435.50 220.00,440.00 226.00,441.50 241.80,443.00 245.60,444.50 248.60,446.80 259.10,447.90 263.60,449.40 308.00,449.80 358.40,449.80"/>
<polyline stroke="#ff00ff" points="216.30,376.00 216.30,460.00 217.00,467.10 218.50,470.10 221.50,473.90 229.00,475.40 244.10,476.10 287.00,479.10 294.50,479.10 358.40,479.90"/>
<polyline stroke="#ff8000" points="216.30,405.00 216.50,440.00 217.80,453.60 218.50,463.30 222.30,463.80 223.00,470.90 244.10,471.30 245.60,473.10 284.00,473.40 306.60,473.90 308.10,475.40 308.80,479.10 358.40,479.30"/>
<polyline stroke="#ff0000" points="216.30,414.00 216.30,464.00 217.20,468.20 218.60,471.00 221.40,473.40 225.20,475.50 228.90,477.10 233.60,478.10 242.00,478.50 259.10,478.80 284.00,479.60 286.30,480.90 358.40,480.90"/>
</g>
<g font-size="8.6" fill="#333333" stroke="#333333" stroke-width="0.12"><text x="216.30" y="515.30" text-anchor="middle">0</text><text x="244.72" y="515.30" text-anchor="middle">100</text><text x="273.14" y="515.30" text-anchor="middle">200</text><text x="301.56" y="515.30" text-anchor="middle">300</text><text x="329.98" y="515.30" text-anchor="middle">400</text><text x="358.40" y="515.30" text-anchor="middle">500</text><text x="213.80" y="507.00" text-anchor="end">3000</text><text x="213.80" y="484.19" text-anchor="end">3100</text><text x="213.80" y="461.39" text-anchor="end">3200</text><text x="213.80" y="438.58" text-anchor="end">3300</text><text x="213.80" y="415.77" text-anchor="end">3400</text><text x="213.80" y="392.96" text-anchor="end">3500</text></g>
<text x="289.35" y="369.50" text-anchor="middle" font-size="9.0" fill="#333333" stroke="#333333" stroke-width="0.25" textLength="34.6" lengthAdjust="spacingAndGlyphs">CEC_27</text>
<text x="289.35" y="526.90" text-anchor="middle" font-size="8.9" fill="#333333" textLength="35" lengthAdjust="spacingAndGlyphs">Iteration</text>
<text transform="translate(190.60 438.40) rotate(-90)" text-anchor="middle" font-size="8.9" fill="#333333" textLength="42" lengthAdjust="spacingAndGlyphs">Best Score</text>
<rect x="308.10" y="380.90" width="42.30" height="77.20" fill="#fff" stroke="#9a9a9a" stroke-width="1"/>
<line x1="310.70" x2="326.80" y1="386.90" y2="386.90" stroke="#ff0000" stroke-width="1.6"/><text x="328.30" y="389.80" font-size="7.25" fill="#333333" stroke="#333333" stroke-width="0.15" letter-spacing="0.2">EROA</text><line x1="310.70" x2="326.80" y1="396.27" y2="396.27" stroke="#000000" stroke-width="1.6"/><text x="328.30" y="399.17" font-size="7.25" fill="#333333" stroke="#333333" stroke-width="0.15" letter-spacing="0.2">ROA</text><line x1="310.70" x2="326.80" y1="405.64" y2="405.64" stroke="#00ff00" stroke-width="1.6"/><text x="328.30" y="408.54" font-size="7.25" fill="#333333" stroke="#333333" stroke-width="0.15" letter-spacing="0.2">AO</text><line x1="310.70" x2="326.80" y1="415.01" y2="415.01" stroke="#ffff00" stroke-width="1.6"/><text x="328.30" y="417.91" font-size="7.25" fill="#333333" stroke="#333333" stroke-width="0.15" letter-spacing="0.2">AOA</text><line x1="310.70" x2="326.80" y1="424.38" y2="424.38" stroke="#00ffff" stroke-width="1.6"/><text x="328.30" y="427.28" font-size="7.25" fill="#333333" stroke="#333333" stroke-width="0.15" letter-spacing="0.2">HHO</text><line x1="310.70" x2="326.80" y1="433.75" y2="433.75" stroke="#0000ff" stroke-width="1.6"/><text x="328.30" y="436.65" font-size="7.25" fill="#333333" stroke="#333333" stroke-width="0.15" letter-spacing="0.2">WOA</text><line x1="310.70" x2="326.80" y1="443.12" y2="443.12" stroke="#ff00ff" stroke-width="1.6"/><text x="328.30" y="446.02" font-size="7.25" fill="#333333" stroke="#333333" stroke-width="0.15" letter-spacing="0.2">SCA</text><line x1="310.70" x2="326.80" y1="452.49" y2="452.49" stroke="#ff8000" stroke-width="1.6"/><text x="328.30" y="455.39" font-size="7.25" fill="#333333" stroke="#333333" stroke-width="0.15" letter-spacing="0.2">STOA</text>
<defs><clipPath id="c8"><rect x="391.60" y="371.40" width="143.80" height="133.00"/></clipPath></defs>
<rect x="392.60" y="372.40" width="141.80" height="131.00" fill="none" stroke="#9a9a9a" stroke-width="1"/>
<path d="M392.60 503.40v-1.60M392.60 372.40v1.60M420.96 503.40v-1.60M420.96 372.40v1.60M449.32 503.40v-1.60M449.32 372.40v1.60M477.68 503.40v-1.60M477.68 372.40v1.60M506.04 503.40v-1.60M506.04 372.40v1.60M534.40 503.40v-1.60M534.40 372.40v1.60M392.60 503.40h1.60M534.40 503.40h-1.60M392.60 485.48h1.60M534.40 485.48h-1.60M392.60 467.56h1.60M534.40 467.56h-1.60M392.60 449.64h1.60M534.40 449.64h-1.60M392.60 431.72h1.60M534.40 431.72h-1.60M392.60 413.80h1.60M534.40 413.80h-1.60M392.60 395.88h1.60M534.40 395.88h-1.60M392.60 377.96h1.60M534.40 377.96h-1.60" stroke="#9a9a9a" stroke-width="0.8" fill="none"/>
<g clip-path="url(#c8)" fill="none" stroke-width="1.5" stroke-linejoin="miter" stroke-linecap="butt">
<polyline stroke="#000000" points="393.00,440.00 393.80,458.10 394.50,464.10 396.80,467.10 402.00,468.60 408.00,469.80 415.60,470.40 435.10,471.60 447.10,471.90 448.60,473.40 474.50,473.40 479.10,476.10 500.10,476.90 527.20,477.90 534.40,478.00"/>
<polyline stroke="#00ff00" points="392.60,399.00 393.50,423.50 400.10,424.90 400.10,430.10 404.30,432.40 404.30,434.80 410.90,435.20 411.80,443.20 413.30,444.50 422.30,444.80 422.80,452.10 448.60,452.10 449.40,457.30 465.50,457.30 485.10,458.40 489.60,461.10 491.80,463.80 500.10,464.80 534.40,465.60"/>
<polyline stroke="#ffff00" points="393.00,410.00 394.00,424.40 402.40,424.40 402.90,427.20 407.10,427.20 407.40,432.20 460.00,432.20 484.00,432.50 527.20,435.50 534.40,435.80"/>
<polyline stroke="#00ffff" points="392.40,422.60 393.00,465.60 394.50,467.90 402.00,469.40 408.00,470.90 414.10,474.60 435.10,475.80 455.00,476.90 534.40,478.40"/>
<polyline stroke="#0000ff" points="392.30,426.60 392.60,462.60 393.00,470.10 394.50,475.40 397.50,478.40 402.00,480.60 412.60,482.10 435.10,482.90 442.60,483.60 447.10,484.80 534.40,484.80"/>
<polyline stroke="#ff00ff" points="392.60,372.40 392.90,396.30 393.90,422.60 394.50,457.30 417.10,457.30 418.60,458.80 419.30,462.60 445.60,462.60 447.10,473.10 459.50,473.90 459.80,479.40 495.60,479.40 497.10,480.30 534.40,480.30"/>
<polyline stroke="#ff8000" points="392.80,412.10 393.30,425.00 395.40,427.30 395.40,443.80 441.90,443.80 442.60,458.80 485.10,458.80 486.60,461.10 487.30,464.80 489.60,465.90 534.40,465.90"/>
<polyline stroke="#ff0000" points="395.40,427.00 395.40,434.80 399.20,434.00 401.00,435.20 404.80,437.60 407.60,438.10 408.10,440.40 408.00,474.60 409.50,477.60 412.60,480.60 416.30,484.40 418.60,487.40 435.10,488.90 450.20,489.70 461.00,491.20 485.10,491.90 507.60,493.40 530.20,494.50 534.40,494.50"/>
</g>
<g font-size="8.6" fill="#333333" stroke="#333333" stroke-width="0.12"><text x="392.60" y="515.30" text-anchor="middle">0</text><text x="420.96" y="515.30" text-anchor="middle">100</text><text x="449.32" y="515.30" text-anchor="middle">200</text><text x="477.68" y="515.30" text-anchor="middle">300</text><text x="506.04" y="515.30" text-anchor="middle">400</text><text x="534.40" y="515.30" text-anchor="middle">500</text><text x="390.10" y="507.00" text-anchor="end">3000</text><text x="390.10" y="489.08" text-anchor="end">3200</text><text x="390.10" y="471.16" text-anchor="end">3400</text><text x="390.10" y="453.24" text-anchor="end">3600</text><text x="390.10" y="435.32" text-anchor="end">3800</text><text x="390.10" y="417.40" text-anchor="end">4000</text><text x="390.10" y="399.48" text-anchor="end">4200</text><text x="390.10" y="381.56" text-anchor="end">4400</text></g>
<text x="465.50" y="368.50" text-anchor="middle" font-size="9.0" fill="#333333" stroke="#333333" stroke-width="0.25" textLength="34.6" lengthAdjust="spacingAndGlyphs">CEC_28</text>
<text x="465.50" y="526.90" text-anchor="middle" font-size="8.9" fill="#333333" textLength="35" lengthAdjust="spacingAndGlyphs">Iteration</text>
<text transform="translate(366.00 437.90) rotate(-90)" text-anchor="middle" font-size="8.9" fill="#333333" textLength="42" lengthAdjust="spacingAndGlyphs">Best Score</text>
<rect x="484.30" y="380.10" width="42.30" height="77.20" fill="#fff" stroke="#9a9a9a" stroke-width="1"/>
<line x1="486.90" x2="503.00" y1="386.10" y2="386.10" stroke="#ff0000" stroke-width="1.6"/><text x="504.50" y="389.00" font-size="7.25" fill="#333333" stroke="#333333" stroke-width="0.15" letter-spacing="0.2">EROA</text><line x1="486.90" x2="503.00" y1="395.47" y2="395.47" stroke="#000000" stroke-width="1.6"/><text x="504.50" y="398.37" font-size="7.25" fill="#333333" stroke="#333333" stroke-width="0.15" letter-spacing="0.2">ROA</text><line x1="486.90" x2="503.00" y1="404.84" y2="404.84" stroke="#00ff00" stroke-width="1.6"/><text x="504.50" y="407.74" font-size="7.25" fill="#333333" stroke="#333333" stroke-width="0.15" letter-spacing="0.2">AO</text><line x1="486.90" x2="503.00" y1="414.21" y2="414.21" stroke="#ffff00" stroke-width="1.6"/><text x="504.50" y="417.11" font-size="7.25" fill="#333333" stroke="#333333" stroke-width="0.15" letter-spacing="0.2">AOA</text><line x1="486.90" x2="503.00" y1="423.58" y2="423.58" stroke="#00ffff" stroke-width="1.6"/><text x="504.50" y="426.48" font-size="7.25" fill="#333333" stroke="#333333" stroke-width="0.15" letter-spacing="0.2">HHO</text><line x1="486.90" x2="503.00" y1="432.95" y2="432.95" stroke="#0000ff" stroke-width="1.6"/><text x="504.50" y="435.85" font-size="7.25" fill="#333333" stroke="#333333" stroke-width="0.15" letter-spacing="0.2">WOA</text><line x1="486.90" x2="503.00" y1="442.32" y2="442.32" stroke="#ff00ff" stroke-width="1.6"/><text x="504.50" y="445.22" font-size="7.25" fill="#333333" stroke="#333333" stroke-width="0.15" letter-spacing="0.2">SCA</text><line x1="486.90" x2="503.00" y1="451.69" y2="451.69" stroke="#ff8000" stroke-width="1.6"/><text x="504.50" y="454.59" font-size="7.25" fill="#333333" stroke="#333333" stroke-width="0.15" letter-spacing="0.2">STOA</text>
</svg></body></html>
